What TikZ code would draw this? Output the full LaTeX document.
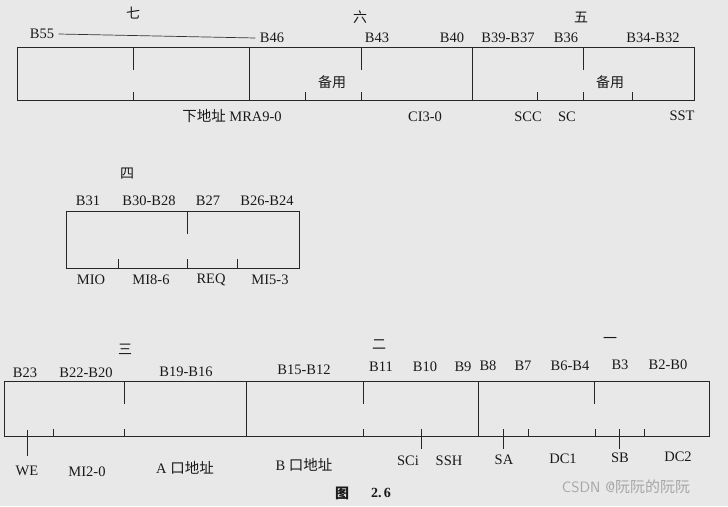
\documentclass[tikz,border=0pt]{standalone}
\usepackage{fontspec}
\setmainfont{Liberation Serif}
\newfontfamily\cjk{Noto Sans CJK SC}
\usetikzlibrary{positioning}

\begin{document}
\begin{tikzpicture}[x=1pt, y=-1pt, line width=1pt,
	lab/.style={inner sep=0, text=black!90, font=\fontsize{14.5}{15}\selectfont},
	num/.style={lab, font=\cjk\fontsize{14}{15}\selectfont},
	wmark/.style={text=black!35, draw=none, font=\sffamily\fontsize{15}{16}\selectfont}]
	% paper
	\fill[black!9] (0,0) rectangle (728,506);
	\useasboundingbox (0,0) rectangle (728,506);

	% word 7-5
	\draw[black!85] (17,47) rectangle (694,100);
	\foreach \x in {249,472} \draw[black!85] (\x,47) -- (\x,100);
	\foreach \x in {133,361,583} \draw[black!85] (\x,47) -- (\x,70);
	\foreach \x in {133,305,361,537,583,632} \draw[black!85] (\x,100) -- (\x,92);
	\node[num] (n7) at (133,13) {七};
	\node[num] (n6) at (360,17) {六};
	\node[num] (n5) at (581,17) {五};
	\node[lab] (b55) at (42,34) {B55};
	\node[lab] (b46) at (272,38) {B46};
	\draw[black!80, line width=0.7pt] ([xshift=4pt]b55.east) -- ([xshift=-4pt]b46.west);
	\node[lab] (b43) at (377,38) {B43};
	\node[lab] (b40) at (452,38) {B40};
	\node[lab] (b39) at (508,38) {B39-B37};
	\node[lab] (b36) at (566,38) {B36};
	\node[lab] (b34) at (653,38) {B34-B32};
	\node[num] (by1) at (332,82) {备用};
	\node[num] (by2) at (610,82) {备用};
	\node[lab] (mra) at (232,116) {{\cjk 下地址} MRA9-0};
	\node[lab] (ci) at (425,117) {CI3-0};
	\node[lab] (scc) at (528,117) {SCC};
	\node[lab] (sc) at (567,117) {SC};
	\node[lab] (sst) at (682,116) {SST};

	% word 4
	\draw[black!85] (66,211) rectangle (299,268);
	\draw[black!85] (187,211) -- (187,234);
	\foreach \x in {118,187,237} \draw[black!85] (\x,268) -- (\x,259);
	\node[num] (n4) at (127,174) {四};
	\node[lab] (b31) at (88,201) {B31};
	\node[lab] (b30) at (149,201) {B30-B28};
	\node[lab] (b27) at (208,201) {B27};
	\node[lab] (b26) at (267,201) {B26-B24};
	\node[lab] (mio) at (91,280) {MIO};
	\node[lab] (mi8) at (151,280) {MI8-6};
	\node[lab] (req) at (211,280) {REQ};
	\node[lab] (mi5) at (270,280) {MI5-3};

	% word 3-1
	\draw[black!85] (4,381) rectangle (709,436);
	\foreach \x in {246,478} \draw[black!85] (\x,381) -- (\x,436);
	\foreach \x in {124,363,594} \draw[black!85] (\x,381) -- (\x,404);
	\foreach \x in {53,124,363,528,595,644} \draw[black!85] (\x,436) -- (\x,429);
	\draw[black!85] (27,430) -- (27,456);
	\foreach \x in {421,503,619} \draw[black!85] (\x,429) -- (\x,449);
	\node[num] (n3) at (125,349) {三};
	\node[num] (n2) at (379,345) {二};
	\node[num] (n1) at (610,340) {一};
	\node[lab] (b23) at (25,373) {B23};
	\node[lab] (b22) at (86,373) {B22-B20};
	\node[lab] (b19) at (186,372) {B19-B16};
	\node[lab] (b15) at (304,370) {B15-B12};
	\node[lab] (b11) at (381,367) {B11};
	\node[lab] (b10) at (425,367) {B10};
	\node[lab] (b9) at (463,367) {B9};
	\node[lab] (b8) at (488,366) {B8};
	\node[lab] (b7) at (523,366) {B7};
	\node[lab] (b6) at (570,366) {B6-B4};
	\node[lab] (b3) at (620,365) {B3};
	\node[lab] (b2) at (668,365) {B2-B0};
	\node[lab] (we) at (27,471) {WE};
	\node[lab] (mi2) at (87,472) {MI2-0};
	\node[lab] (aadr) at (185,468) {A {\cjk 口地址}};
	\node[lab] (badr) at (304,465) {B {\cjk 口地址}};
	\node[lab] (sci) at (408,461) {SCi};
	\node[lab] (ssh) at (449,461) {SSH};
	\node[lab] (sa) at (504,460) {SA};
	\node[lab] (dc1) at (563,459) {DC1};
	\node[lab] (sb) at (620,458) {SB};
	\node[lab] (dc2) at (678,457) {DC2};

	% caption
	\node[lab, font=\cjk\bfseries\fontsize{14}{15}\selectfont] (fig) at (342,493) {图};
	\node[lab, font=\bfseries\fontsize{14}{15}\selectfont] (fnum) at (381,493) {2.\,6};
	\node[wmark] (wm) at (626,487) {CSDN @{\cjk 阮阮的阮阮}};
\end{tikzpicture}
\end{document}
